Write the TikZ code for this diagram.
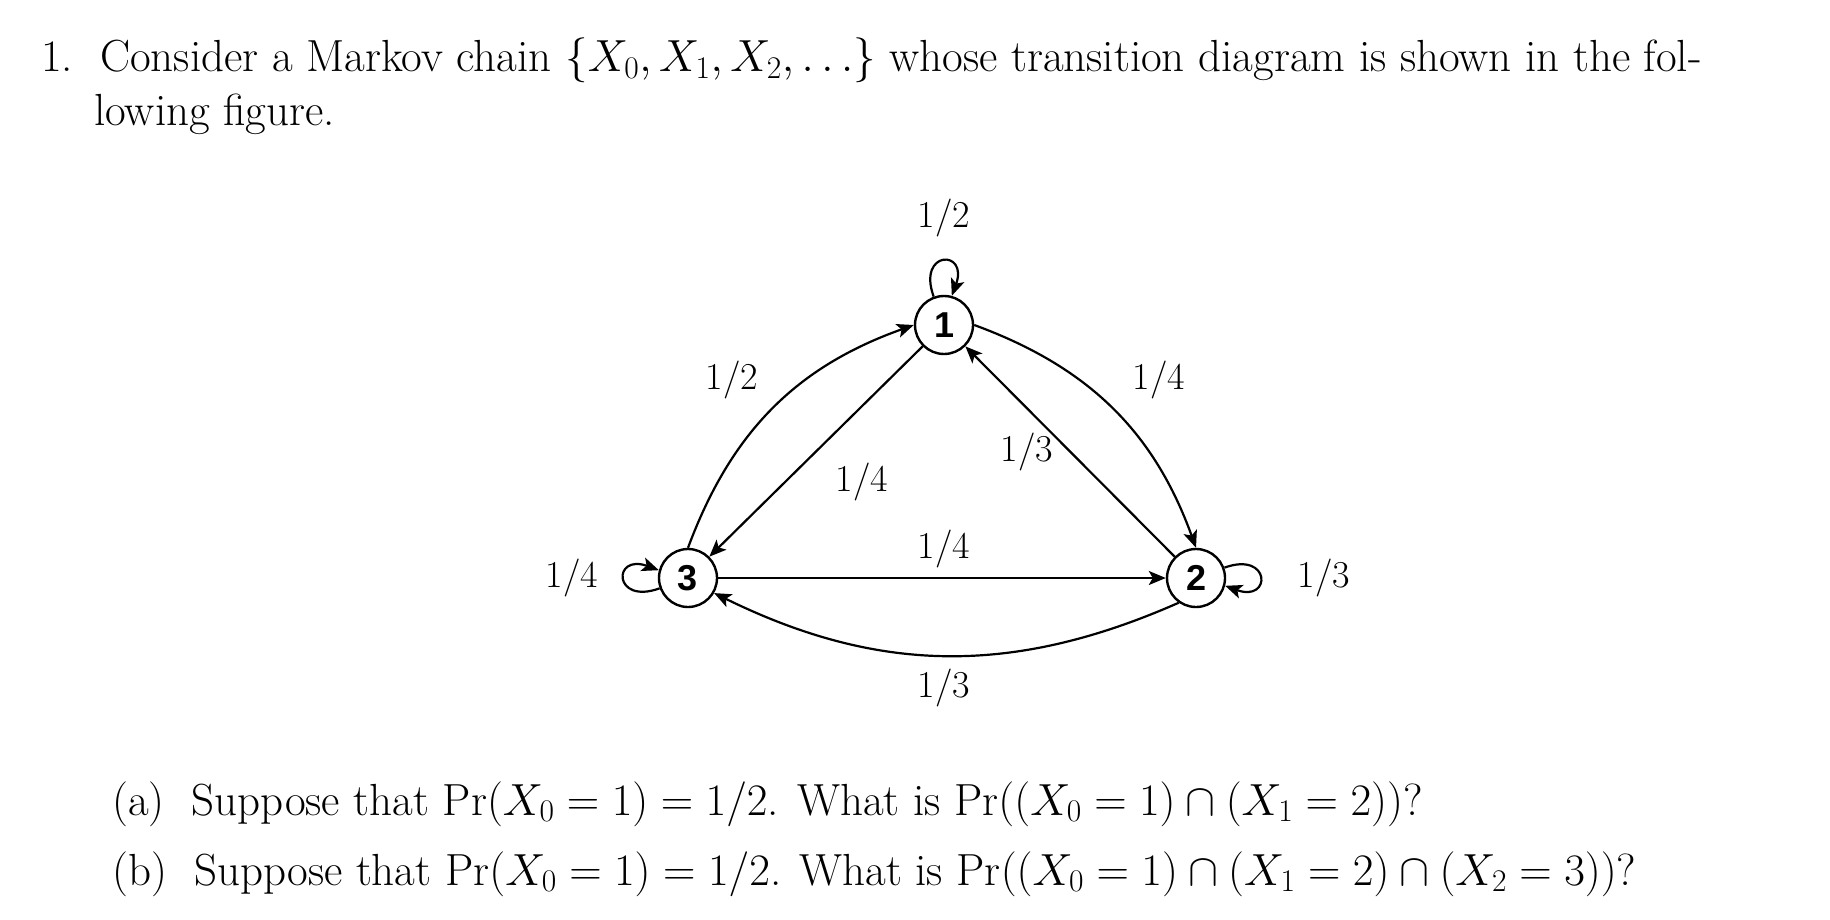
\RequirePackage{fix-cm}
\documentclass[tikz,border=0pt]{standalone}
\usepackage{fontspec}
\newfontfamily\nodefont{Liberation Sans}
\usetikzlibrary{arrows.meta}
\begin{document}
\begin{tikzpicture}[x=1pt,y=-1pt,
  st/.style={circle,draw,line width=2.4pt,minimum size=58pt,inner sep=0pt,font=\nodefont\bfseries\fontsize{36}{36}\selectfont},
  tr/.style={line width=2.2pt,-{Stealth[length=17pt,width=14pt,inset=4pt]}},
  lb/.style={font=\fontsize{38}{38}\selectfont},
  txt/.style={anchor=base west,inner sep=0pt,font=\fontsize{45}{45}\selectfont}]
\useasboundingbox (0,0) rectangle (1830,920);
\node[txt] (t1) at (41,72) {1.\ \ Consider a Markov chain $\{X_0,X_1,X_2,\ldots\}$ whose transition diagram is shown in the fol-};
\node[txt] (t2) at (94,126) {lowing figure.};
\node[st] (n1) at (944,325) {1};
\node[st] (n2) at (1196,578) {2};
\node[st] (n3) at (688,578) {3};
\draw[tr] (n1.110) to[out=110,in=70,looseness=7] (n1.75);
\draw[tr] (n3.north) to[bend left=25] (n1.west);
\draw[tr] (n1.east) to[bend left=25] (n2.north);
\draw[tr] (n1.225) -- (n3.45);
\draw[tr] (n2.135) -- (n1.-45);
\draw[tr] (n3) -- (n2);
\draw[tr] (n2.235) to[bend left=25] (n3.-30);
\draw[tr] (n3.200) to[out=200,in=160,looseness=7] (n3.165);
\draw[tr] (n2.20) to[out=20,in=-20,looseness=7] (n2.-15);
\node[lb] (l1) at (944,218) {1/2};
\node[lb] (l2) at (732,380) {1/2};
\node[lb] (l3) at (1159,380) {1/4};
\node[lb] (l4) at (1027,452) {1/3};
\node[lb] (l5) at (862,482) {1/4};
\node[lb] (l6) at (944,549) {1/4};
\node[lb] (l7) at (944,688) {1/3};
\node[lb] (l8) at (572,578) {1/4};
\node[lb] (l9) at (1324,578) {1/3};
\node[txt] (qa) at (112,815) {(a)\ \ Suppose that $\Pr(X_0=1)=1/2$. What is $\Pr((X_0=1)\cap(X_1=2))$?};
\node[txt] (qb) at (112,885) {(b)\ \ Suppose that $\Pr(X_0=1)=1/2$. What is $\Pr((X_0=1)\cap(X_1=2)\cap(X_2=3))$?};
\end{tikzpicture}
\end{document}
